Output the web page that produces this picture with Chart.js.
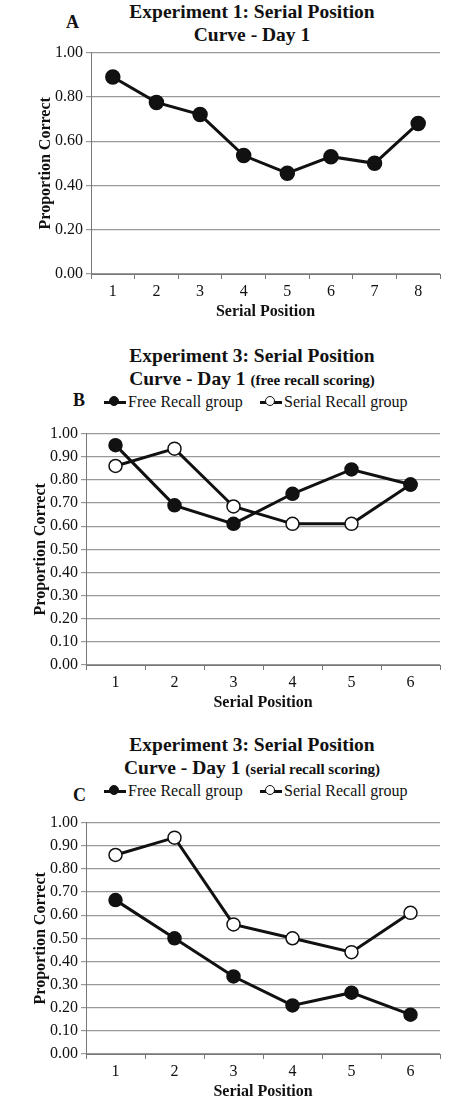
<!DOCTYPE html>
<html>
<head>
<meta charset="utf-8">
<script src="https://cdn.jsdelivr.net/npm/chart.js@4"></script>
<style>
  body { margin: 0; width: 474px; height: 1108px; background: #fff; position: relative;
         font-family: "Liberation Serif", "DejaVu Serif", serif; color: #111; overflow: hidden; }
  .t { position: absolute; left: 0; width: 474px; text-align: center; font-weight: bold; font-size: 19.5px; line-height: 23px; padding-left: 30px; box-sizing: border-box; }
  .t small { font-size: 15px; }
  .lbl { position: absolute; font-weight: bold; font-size: 18px; }
  .box { position: absolute; left: 0; width: 474px; }
  .leg { position: absolute; font-size: 16px; display: flex; align-items: center; }
  .mk { display: inline-block; width: 22px; height: 3px; background: #111; position: relative; margin-right: 2px; }
  .mk::after { content: ""; position: absolute; left: 5px; top: -5px; width: 10px; height: 10px; border-radius: 50%;
               border: 1.5px solid #111; box-sizing: border-box; background: var(--f); }
</style>
</head>
<body>
<div class="t" style="top:0px">Experiment 1: Serial Position<br>Curve - Day 1</div>
<div class="lbl" style="left:66px;top:12px">A</div>
<div class="box" style="top:40px;height:282px"><canvas id="chartA"></canvas></div>

<div class="t" style="top:344px">Experiment 3: Serial Position<br>Curve - Day 1 <small>(free recall scoring)</small></div>
<div class="lbl" style="left:73px;top:390px">B</div>
<div class="leg" style="left:104px;top:393px"><span class="mk" style="--f:#111"></span>Free Recall group</div>
<div class="leg" style="left:260px;top:393px"><span class="mk" style="--f:#fff"></span>Serial Recall group</div>
<div class="box" style="top:421px;height:292px"><canvas id="chartB"></canvas></div>

<div class="t" style="top:733px">Experiment 3: Serial Position<br>Curve - Day 1 <small>(serial recall scoring)</small></div>
<div class="lbl" style="left:73px;top:785px">C</div>
<div class="leg" style="left:104px;top:782px"><span class="mk" style="--f:#111"></span>Free Recall group</div>
<div class="leg" style="left:260px;top:782px"><span class="mk" style="--f:#fff"></span>Serial Recall group</div>
<div class="box" style="top:810px;height:292px"><canvas id="chartC"></canvas></div>

<script>
const positionsA = ["1", "2", "3", "4", "5", "6", "7", "8"];
const exp1Day1 = [0.89, 0.775, 0.72, 0.535, 0.455, 0.53, 0.50, 0.68];

const positionsB = ["1", "2", "3", "4", "5", "6"];
const freeGroupFreeScoring = [0.95, 0.69, 0.61, 0.74, 0.845, 0.78];
const serialGroupFreeScoring = [0.86, 0.935, 0.685, 0.61, 0.61, 0.78];

const freeGroupSerialScoring = [0.665, 0.50, 0.335, 0.21, 0.265, 0.17];
const serialGroupSerialScoring = [0.86, 0.935, 0.56, 0.50, 0.44, 0.61];

const seriesNames = ["Free Recall group", "Serial Recall group"];

const serif = "'Liberation Serif', 'DejaVu Serif', serif";

function line(label, data, fill, r) {
  return {
    label, data,
    borderColor: "#111", borderWidth: 3,
    pointBackgroundColor: fill, pointBorderColor: "#111", pointBorderWidth: 1.5,
    pointRadius: r, tension: 0
  };
}

function makeChart(id, labels, datasets, padLeft, yWidth, padRight) {
  new Chart(document.getElementById(id), {
    type: "line",
    data: { labels, datasets },
    options: {
      responsive: true, maintainAspectRatio: false, animation: false,
      layout: { padding: { left: padLeft, right: padRight, top: 8, bottom: 0 } },
      plugins: { legend: { display: false }, tooltip: { enabled: false } },
      scales: {
        x: {
          offset: true,
          grid: { offset: true, drawOnChartArea: false, tickLength: 5, color: "#777" },
          border: { color: "#777" },
          ticks: { color: "#111", font: { family: serif, size: 16 }, padding: 3 },
          title: { display: true, text: "Serial Position", color: "#111", font: { family: serif, size: 16, weight: "bold" }, padding: 1 },
          afterFit: s => { s.height = 48; }
        },
        y: {
          min: 0, max: 1,
          ticks: { stepSize: 0.1, color: "#111", font: { family: serif, size: 16 }, callback: v => v.toFixed(2), padding: 3 },
          grid: { color: "#999", lineWidth: 1.2, tickLength: 5 },
          border: { color: "#777" },
          title: { display: true, text: "Proportion Correct", color: "#111", font: { family: serif, size: 16, weight: "bold" }, padding: 0 },
          afterFit: s => { s.width = yWidth; }
        }
      }
    }
  });
}

makeChart("chartA", positionsA, [line("Day 1", exp1Day1, "#111", 7)], 36, 55, 34);
makeChart("chartB", positionsB, [
  line(seriesNames[0], freeGroupFreeScoring, "#111", 6.5),
  line(seriesNames[1], serialGroupFreeScoring, "#fff", 6.5)
], 31, 55, 34);
makeChart("chartC", positionsB, [
  line(seriesNames[0], freeGroupSerialScoring, "#111", 6.5),
  line(seriesNames[1], serialGroupSerialScoring, "#fff", 6.5)
], 31, 55, 34);
</script>
</body>
</html>
